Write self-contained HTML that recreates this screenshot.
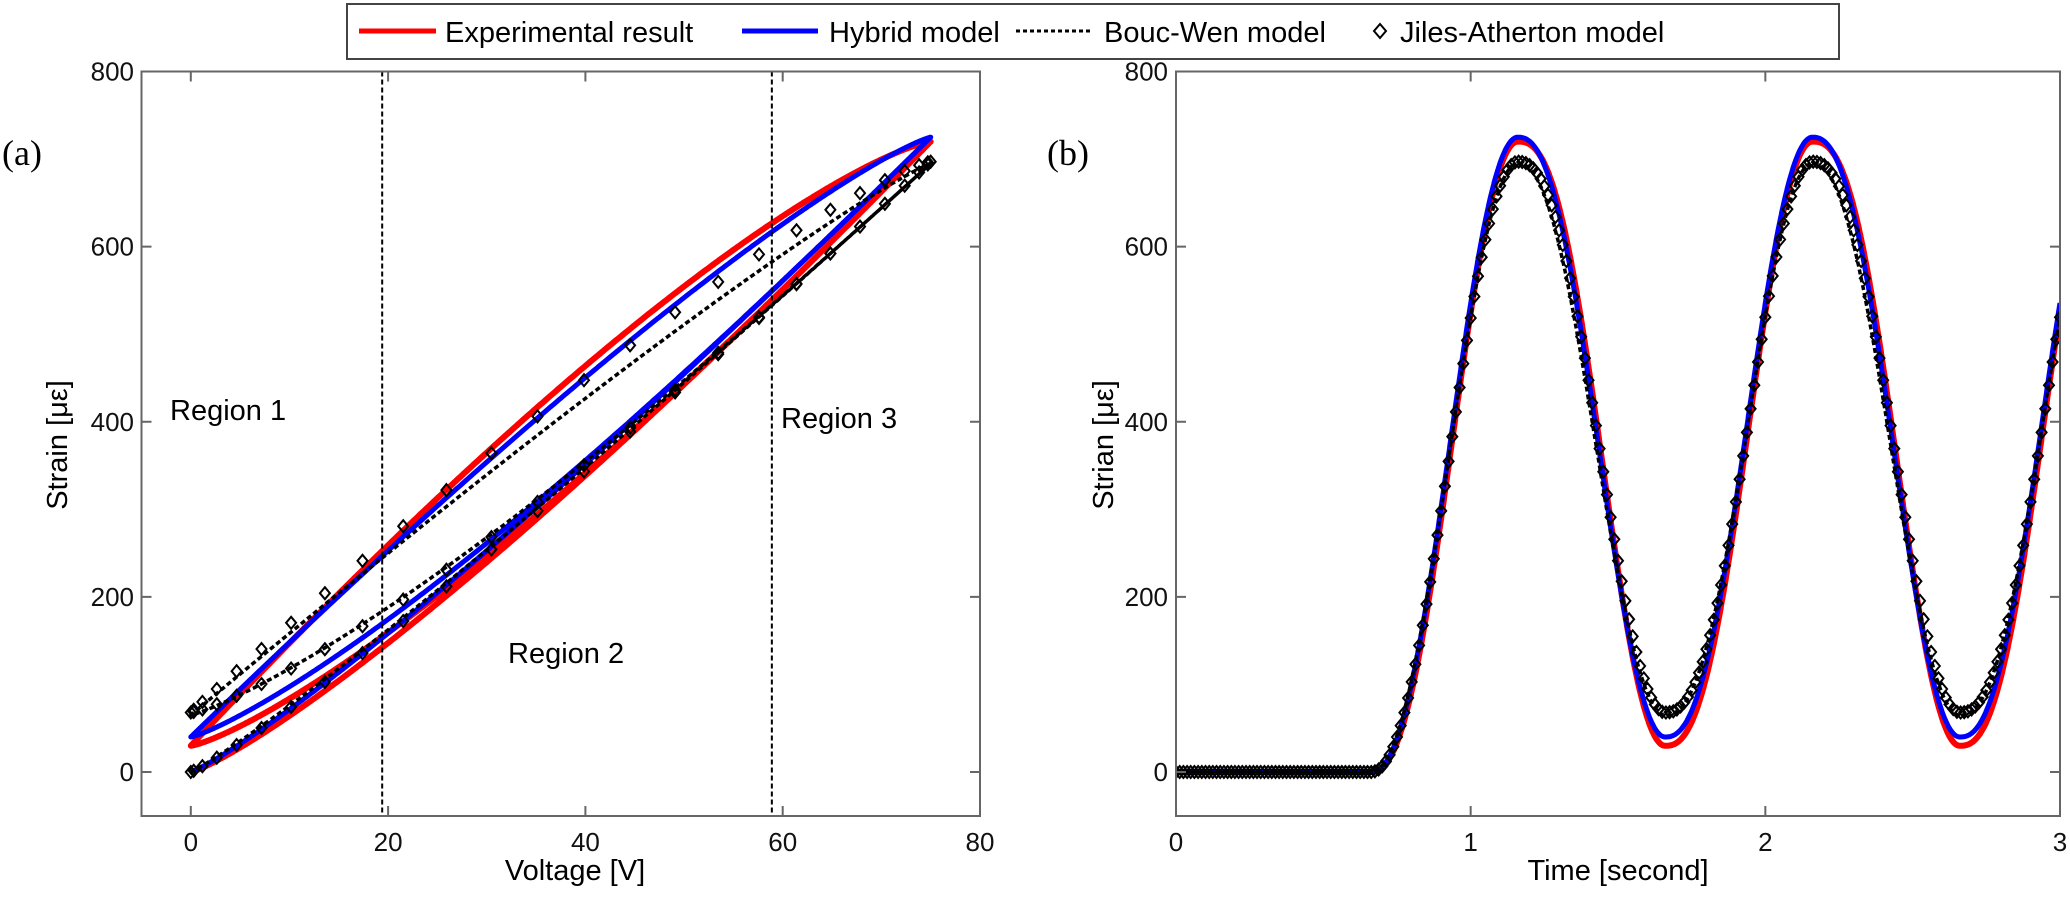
<!DOCTYPE html>
<html><head><meta charset="utf-8"><style>
html,body{margin:0;padding:0;background:#fff;}
svg{display:block;font-family:"Liberation Sans",Arial,sans-serif;}
</style></head><body>
<svg id="s" width="2070" height="900" xmlns="http://www.w3.org/2000/svg">
<rect width="2070" height="900" fill="#fff"/>
<g id="plots"></g>
<rect x="141.5" y="71.5" width="838.5" height="744.5" fill="none" stroke="#666" stroke-width="2"/>
<rect x="1176" y="71.5" width="884" height="744.5" fill="none" stroke="#666" stroke-width="2"/>
<g id="ticks" stroke="#666" stroke-width="2"></g>
<g id="labels" font-size="26" fill="#111"></g>
<text x="575" y="880" font-size="29" text-anchor="middle">Voltage [V]</text>
<text x="1618" y="880" font-size="29" text-anchor="middle">Time [second]</text>
<text transform="translate(67,445) rotate(-90)" font-size="29" text-anchor="middle">Strain [με]</text>
<text transform="translate(1113,445) rotate(-90)" font-size="29" text-anchor="middle">Strian [με]</text>
<text x="2" y="165" font-size="36" font-family="Liberation Serif,serif">(a)</text>
<text x="1047" y="165" font-size="36" font-family="Liberation Serif,serif">(b)</text>
<text x="170" y="420" font-size="29">Region 1</text>
<text x="508" y="663" font-size="29">Region 2</text>
<text x="781" y="428" font-size="29">Region 3</text>
<rect x="347" y="4" width="1492" height="55" fill="#fff" stroke="#444" stroke-width="2"/>
<line x1="359" y1="31" x2="436" y2="31" stroke="#f00" stroke-width="5"/>
<text x="445" y="42" font-size="29">Experimental result</text>
<line x1="742" y1="31" x2="818" y2="31" stroke="#00f" stroke-width="5"/>
<text x="829" y="42" font-size="29">Hybrid model</text>
<line x1="1016" y1="31" x2="1093" y2="31" stroke="#000" stroke-width="3" stroke-dasharray="4,3"/>
<text x="1104" y="42" font-size="29">Bouc-Wen model</text>
<path d="M1380 24 L1386 31 L1380 38 L1374 31 Z" fill="none" stroke="#000" stroke-width="2"/>
<text x="1400" y="42" font-size="29">Jiles-Atherton model</text>
</svg>
<script>
const NS="http://www.w3.org/2000/svg";
function el(p,tag,a,txt){const e=document.createElementNS(NS,tag);for(const k in a)e.setAttribute(k,a[k]);if(txt!==undefined)e.textContent=txt;p.appendChild(e);return e;}
const plots=document.getElementById('plots'),ticks=document.getElementById('ticks'),labels=document.getElementById('labels');
const Y=v=>772-(v)*0.8756;
const XL=v=>190.8+v*9.865;
const XR=t=>1176+t*294.67;
el(plots,'clipPath',{id:'cl'}); el(plots.lastChild,'rect',{x:141.5,y:71.5,width:838.5,height:744.5});
el(plots,'clipPath',{id:'cr'}); el(plots.lastChild,'rect',{x:1176,y:71.5,width:884,height:744.5});
[0,20,40,60,80].forEach(v=>{const x=XL(v);el(ticks,'line',{x1:x,y1:816,x2:x,y2:806});el(ticks,'line',{x1:x,y1:71.5,x2:x,y2:81.5});
 el(labels,'text',{x:x,y:851,'text-anchor':'middle'},v);});
[0,1,2,3].forEach(v=>{const x=XR(v);el(ticks,'line',{x1:x,y1:816,x2:x,y2:806});el(ticks,'line',{x1:x,y1:71.5,x2:x,y2:81.5});
 el(labels,'text',{x:x,y:851,'text-anchor':'middle'},v);});
[0,200,400,600,800].forEach(v=>{const y=Y(v);
 el(ticks,'line',{x1:141.5,y1:y,x2:151.5,y2:y});el(ticks,'line',{x1:980,y1:y,x2:970,y2:y});
 el(ticks,'line',{x1:1176,y1:y,x2:1186,y2:y});el(ticks,'line',{x1:2060,y1:y,x2:2050,y2:y});
 el(labels,'text',{x:134,y:y+9,'text-anchor':'end'},v);el(labels,'text',{x:1168,y:y+9,'text-anchor':'end'},v);});
const models={
 red:{m:30,M:720,ei:1.2,ed:1.3},
 blue:{m:40,M:725,ei:1.15,ed:1.2},
 black:{m:65,M:695,ei:1.1,ed:1.12}
};
function volt(t){return t<0.66?0:37.5*(1-Math.cos(2*Math.PI*(t-0.66)));}
function strain(mod,t){
 if(t<0.66)return 0;
 const V=volt(t),u=V/75;const ph=((t-0.66)%1);
 const init=mod.M*Math.pow(u,mod.ei);
 if(t<1.16) return init;
 if(ph>=0.5) return mod.m+(mod.M-mod.m)*(1-Math.pow(1-u,mod.ed));
 return init+mod.m*Math.pow(1-u,3);
}
function draw(mod,col,w,dash){
 let dl='',dr='';
 for(let i=0;i<=3000;i++){const t=i/1000;const s=strain(mod,t);
  dr+=(i?'L':'M')+XR(t).toFixed(1)+' '+Y(s).toFixed(1);
  if(t>=0.66&&t<=2.16)dl+=(dl?'L':'M')+XL(volt(t)).toFixed(1)+' '+Y(s).toFixed(1);}
 const a={fill:'none',stroke:col,'stroke-width':w,'stroke-linejoin':'round'};if(dash)a['stroke-dasharray']=dash;
 el(plots,'path',Object.assign({d:dl,'clip-path':'url(#cl)'},a));
 el(plots,'path',Object.assign({d:dr,'clip-path':'url(#cr)'},a));
}
draw(models.red,'#f00',6);
draw(models.blue,'#00f',5);
draw(models.black,'#000',3.5,'5,3');
let dm='';
const dia=(x,y)=>`M${x.toFixed(1)} ${(y-6).toFixed(1)}L${(x+5).toFixed(1)} ${y.toFixed(1)}L${x.toFixed(1)} ${(y+6).toFixed(1)}L${(x-5).toFixed(1)} ${y.toFixed(1)}Z`;
const ja={m:68,M:697,ei:1.12,ed:1.22};
for(let i=0;i<=240;i++){const t=i*0.0125;dm+=dia(XR(t),Y(strain(ja,t)));}
el(plots,'path',{d:dm,fill:'none',stroke:'#000','stroke-width':2,'clip-path':'url(#cr)'});
let dl='';
for(let i=0;i<=120;i++){const t=0.66+i*0.02;if(t>3)break;dl+=dia(XL(volt(t)),Y(strain(ja,t)));}
el(plots,'path',{d:dl,fill:'none',stroke:'#000','stroke-width':2,'clip-path':'url(#cl)'});
el(plots,'line',{x1:XL(19.4),y1:71.5,x2:XL(19.4),y2:816,stroke:'#000','stroke-width':2,'stroke-dasharray':'5,3'});
el(plots,'line',{x1:XL(58.9),y1:71.5,x2:XL(58.9),y2:816,stroke:'#000','stroke-width':2,'stroke-dasharray':'5,3'});
</script>
</body></html>
